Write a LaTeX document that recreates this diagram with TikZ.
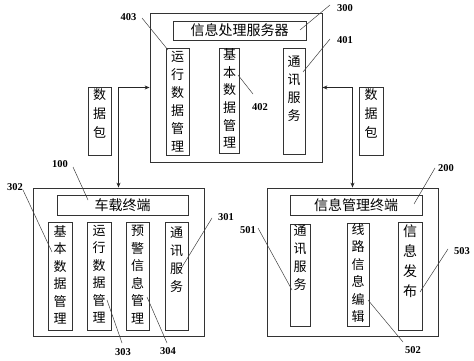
\documentclass[tikz,border=0pt]{standalone}
\usepackage{fontspec}
\setmainfont{Liberation Serif}
\newfontfamily\cjk{Noto Sans CJK SC}
\usetikzlibrary{arrows.meta}
\tikzset{
  box/.style={draw=black!80, line width=0.8pt, inner sep=0pt, rectangle},
  vtext/.style={font=\cjk\fontsize{13}{18}\selectfont, align=center, inner sep=0pt, anchor=north},
  ttext/.style={font=\cjk\fontsize{14}{16}\selectfont, inner sep=0pt},
  num/.style={font=\bfseries\fontsize{10.5}{12}\selectfont, inner sep=0pt},
  lead/.style={draw=black!75, line width=0.5pt},
  conn/.style={draw=black!85, line width=0.8pt, {Stealth[length=5pt,width=4pt]}-{Stealth[length=5pt,width=4pt]}}
}
\begin{document}
\begin{tikzpicture}[x=1pt,y=-1pt]
\useasboundingbox (0,0) rectangle (474,361);
% top server
\node[box, minimum width=172pt, minimum height=149pt] (srv) at (236,87.5) {};
\node[box, minimum width=133pt, minimum height=19pt] (srvt) at (239.5,30.5) {};
\node[ttext] (srvtt) at (239.5,30.5) {信息处理服务器};
\node[box, minimum width=23pt, minimum height=107pt] (s1) at (177.5,101.5) {};
\node[vtext] (s1t) at (177.5,51.5) {运\\行\\数\\据\\管\\理};
\node[box, minimum width=20pt, minimum height=105pt] (s2) at (229.5,100.5) {};
\node[vtext, font=\cjk\fontsize{13}{17.6}\selectfont] (s2t) at (229.5,48.5) {基\\本\\数\\据\\管\\理};
\node[box, minimum width=22pt, minimum height=106pt] (s3) at (294,101) {};
\node[vtext] (s3t) at (294,56) {通\\讯\\服\\务};
% data packets
\node[box, minimum width=23pt, minimum height=68pt] (p1) at (99.5,121) {};
\node[vtext, font=\cjk\fontsize{13}{19}\selectfont] (p1t) at (99.5,88) {数\\据\\包};
\node[box, minimum width=24pt, minimum height=68pt] (p2) at (371,121) {};
\node[vtext, font=\cjk\fontsize{13}{19}\selectfont] (p2t) at (371,88) {数\\据\\包};
% car terminal
\node[box, minimum width=171pt, minimum height=148pt] (car) at (118.5,262) {};
\node[box, minimum width=131pt, minimum height=20pt] (cart) at (122.5,205) {};
\node[ttext] (cartt) at (122.5,205) {车载终端};
\node[box, minimum width=24pt, minimum height=108pt] (c1) at (60,276) {};
\node[vtext, font=\cjk\fontsize{13}{17.5}\selectfont] (c1t) at (60,225) {基\\本\\数\\据\\管\\理};
\node[box, minimum width=24pt, minimum height=108pt] (c2) at (99,276) {};
\node[vtext, font=\cjk\fontsize{13}{17.5}\selectfont] (c2t) at (99,225) {运\\行\\数\\据\\管\\理};
\node[box, minimum width=23pt, minimum height=108pt] (c3) at (137.5,276) {};
\node[vtext, font=\cjk\fontsize{13}{17.5}\selectfont] (c3t) at (137.5,225) {预\\警\\信\\息\\管\\理};
\node[box, minimum width=23pt, minimum height=108pt] (c4) at (176.5,276) {};
\node[vtext] (c4t) at (176.5,227) {通\\讯\\服\\务};
% management terminal
\node[box, minimum width=171pt, minimum height=148pt] (mgr) at (352.5,262) {};
\node[box, minimum width=132pt, minimum height=20pt] (mgrt) at (356,205) {};
\node[ttext] (mgrtt) at (356,205) {信息管理终端};
\node[box, minimum width=20pt, minimum height=102pt] (m1) at (300,275) {};
\node[vtext, font=\cjk\fontsize{13}{18}\selectfont] (m1t) at (300,225) {通\\讯\\服\\务};
\node[box, minimum width=22pt, minimum height=103pt] (m2) at (358,274.5) {};
\node[vtext, font=\cjk\fontsize{13}{17.5}\selectfont] (m2t) at (358,223) {线\\路\\信\\息\\编\\辑};
\node[box, minimum width=24pt, minimum height=108pt] (m3) at (410,276) {};
\node[vtext, font=\cjk\fontsize{14}{20}\selectfont] (m3t) at (410,225) {信\\息\\发\\布};
% connectors
\draw[conn] (srv.west) -| (car.north);
\draw[conn] (srv.east) -| (mgr.north);
% labels
\node[num] (n403) at (128.5,17) {403};
\node[num] (n300) at (345,8) {300};
\node[num] (n401) at (345,40) {401};
\node[num] (n402) at (260,107) {402};
\node[num] (n100) at (60,164) {100};
\node[num] (n302) at (15,187) {302};
\node[num] (n303) at (123,352) {303};
\node[num] (n304) at (168,351) {304};
\node[num] (n301) at (226,217) {301};
\node[num] (n200) at (446,168) {200};
\node[num] (n501) at (248,230) {501};
\node[num] (n503) at (462,251) {503};
\node[num] (n502) at (413,350) {502};
% leader lines
\coordinate (a403) at (142,18); \coordinate (b403) at (168,50);
\coordinate (a300) at (330,5); \coordinate (b300) at (300,30);
\coordinate (a401) at (330,39); \coordinate (b401) at (303,72);
\coordinate (a402) at (253,94); \coordinate (b402) at (238,75);
\coordinate (a100) at (73,167); \coordinate (b100) at (88,200);
\coordinate (a302) at (23,190); \coordinate (b302) at (52,252);
\coordinate (a303) at (122,343); \coordinate (b303) at (107,300);
\coordinate (a304) at (167,343); \coordinate (b304) at (147,297);
\coordinate (a301) at (212,218); \coordinate (b301) at (182,267);
\coordinate (a200) at (435,168); \coordinate (b200) at (414,204);
\coordinate (a501) at (258,228); \coordinate (b501) at (292,290);
\coordinate (a503) at (448,249); \coordinate (b503) at (420,292);
\coordinate (a502) at (403,342); \coordinate (b502) at (368,300);
\foreach \n in {403,300,401,402,100,302,303,304,301,200,501,503,502}
  \draw[lead] (a\n) -- (b\n);
\end{tikzpicture}
\end{document}
